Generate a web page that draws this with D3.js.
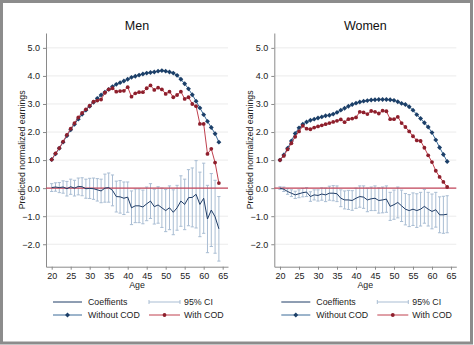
<!DOCTYPE html>
<html>
<head>
<meta charset="utf-8">
<script src="https://cdnjs.cloudflare.com/ajax/libs/d3/7.8.5/d3.min.js"></script>
<style>
  body { margin: 0; background: #fff; }
  svg { display: block; font-family: "Liberation Sans", Arial, sans-serif; }
  .axis path, .axis line { stroke: #8a8a8a; }
  .axis text { font-size: 9px; fill: #222; }
</style>
</head>
<body>
<svg width="474" height="345"></svg>
<script>
// ages on the x axis
var ages = [20,21,22,23,24,25,26,27,28,29,30,31,32,33,34,35,36,37,38,39,40,41,42,
            43,44,45,46,47,48,49,50,51,52,53,54,55,56,57,58,59,60,61,62,63,64];

var yTicks = [-2, -1, 0, 1, 2, 3, 4, 5];
var xTicks = [20, 25, 30, 35, 40, 45, 50, 55, 60, 65];

// men
var menWithout = [1.02,1.22,1.42,1.64,1.87,2.08,2.28,2.46,2.63,2.78,2.92,3.06,3.20,3.32,3.42,3.52,
                  3.62,3.70,3.76,3.82,3.88,3.95,3.99,4.03,4.07,4.10,4.12,4.14,4.17,4.19,4.17,4.14,
                  4.10,4.02,3.88,3.72,3.54,3.33,3.10,2.86,2.62,2.38,2.16,1.94,1.64];
var menWith = [1.02,1.24,1.43,1.66,1.90,2.12,2.32,2.52,2.68,2.81,2.94,3.08,3.12,3.16,3.40,3.52,
               3.56,3.44,3.46,3.47,3.60,3.26,3.38,3.42,3.42,3.56,3.66,3.50,3.58,3.52,3.36,3.44,
               3.24,3.32,3.44,3.18,3.24,3.00,2.92,2.29,2.29,1.22,1.40,0.91,0.18];
var menCoef = [0.02,0.04,0.02,0.04,-0.02,0.05,0.00,0.06,0.05,-0.02,-0.01,-0.02,-0.06,-0.10,0.00,0.02,
               -0.08,-0.30,-0.31,-0.36,-0.32,-0.70,-0.63,-0.63,-0.67,-0.56,-0.46,-0.66,-0.60,-0.70,-0.80,-0.70,
               -0.86,-0.70,-0.46,-0.58,-0.34,-0.33,-0.22,-0.58,-0.36,-1.10,-0.78,-1.02,-1.45];
var menHi = [0.16,0.19,0.20,0.26,0.24,0.32,0.28,0.36,0.37,0.32,0.35,0.36,0.34,0.32,0.50,0.54,
             0.47,0.25,0.27,0.22,0.22,-0.10,-0.03,-0.03,-0.07,0.04,0.16,-0.04,0.05,0.00,-0.05,0.08,
             -0.06,0.10,0.44,0.32,0.66,0.72,0.98,0.57,0.89,0.10,0.52,0.28,-0.30];
var menLo = [-0.12,-0.11,-0.16,-0.18,-0.28,-0.22,-0.28,-0.24,-0.27,-0.36,-0.37,-0.40,-0.46,-0.52,-0.50,-0.50,
             -0.63,-0.85,-0.89,-0.94,-0.86,-1.30,-1.23,-1.23,-1.27,-1.16,-1.08,-1.28,-1.25,-1.40,-1.55,-1.48,
             -1.66,-1.50,-1.36,-1.48,-1.34,-1.38,-1.42,-1.73,-1.61,-2.30,-2.08,-2.32,-2.60];

// women
var womenWithout = [1.00,1.18,1.42,1.68,1.95,2.15,2.28,2.36,2.42,2.46,2.50,2.54,2.58,2.60,2.64,2.70,
                    2.78,2.85,2.92,2.98,3.03,3.07,3.10,3.12,3.14,3.15,3.16,3.16,3.16,3.15,3.13,3.08,
                    3.02,2.98,2.90,2.78,2.62,2.48,2.33,2.18,1.98,1.72,1.45,1.20,0.95];
var womenWith = [1.00,1.15,1.38,1.60,1.83,2.02,2.22,2.12,2.10,2.16,2.20,2.24,2.28,2.32,2.36,2.40,
                 2.45,2.35,2.46,2.48,2.52,2.72,2.70,2.64,2.75,2.72,2.66,2.76,2.74,2.46,2.46,2.54,
                 2.32,2.18,2.02,1.85,1.70,1.68,1.44,1.17,0.93,0.62,0.40,0.22,0.04];
var womenCoef = [0.00,-0.04,-0.12,-0.18,-0.24,-0.20,-0.16,-0.14,-0.30,-0.24,-0.26,-0.21,-0.24,-0.18,-0.18,-0.20,
                 -0.36,-0.42,-0.42,-0.44,-0.36,-0.30,-0.32,-0.42,-0.38,-0.36,-0.44,-0.42,-0.39,-0.65,-0.59,-0.51,
                 -0.63,-0.75,-0.80,-0.75,-0.80,-0.75,-0.65,-0.75,-0.83,-0.77,-0.95,-0.95,-0.93];
var womenHi = [0.05,0.04,-0.02,-0.06,-0.11,-0.06,-0.01,0.02,-0.13,-0.06,-0.06,0.01,0.00,0.07,0.09,0.08,
               -0.06,-0.10,-0.08,-0.09,0.00,0.08,0.08,0.00,0.04,0.08,0.01,0.04,0.08,-0.15,-0.07,0.04,
               -0.07,-0.19,-0.23,-0.17,-0.20,-0.15,-0.05,-0.15,-0.21,-0.15,-0.31,-0.29,-0.27];
var womenLo = [-0.05,-0.12,-0.22,-0.30,-0.37,-0.34,-0.31,-0.30,-0.47,-0.42,-0.46,-0.43,-0.48,-0.43,-0.45,-0.48,
               -0.66,-0.74,-0.76,-0.79,-0.72,-0.68,-0.72,-0.84,-0.80,-0.80,-0.89,-0.88,-0.86,-1.15,-1.11,-1.06,
               -1.19,-1.31,-1.37,-1.33,-1.40,-1.35,-1.25,-1.35,-1.45,-1.39,-1.59,-1.61,-1.59];

var legendLabels = ["Coeffients", "95% CI", "Without COD", "With COD"];

var navy = "#1f3c66", ciColor = "#a9bdd3", blueLine = "#3b6a98", blueMark = "#1c3f68",
    redLine = "#c0414f", redMark = "#8e1f2c", zeroColor = "#c4475c";

var svg = d3.select("svg");

// outer frame
svg.append("rect").attr("x", 1.5).attr("y", 1.5).attr("width", 470).attr("height", 341.5)
  .attr("fill", "none").attr("stroke", "#8c8c8c").attr("stroke-width", 3);

var plotTop = 33, plotBottom = 266.7, plotW = 182;
var y = d3.scaleLinear().domain([-2.8, 5.53]).range([plotBottom, plotTop]);

function drawPanel(left, title, without, withC, coef, lo, hi) {
  var x = d3.scaleLinear().domain([18.5, 66.4]).range([left, left + plotW]);
  var g = svg.append("g");

  // gridlines
  g.selectAll(".grid").data(yTicks).enter().append("line")
    .attr("x1", left).attr("x2", left + plotW)
    .attr("y1", function(d) { return y(d); }).attr("y2", function(d) { return y(d); })
    .attr("stroke", "#ebebeb").attr("stroke-width", 1);

  g.append("g").attr("class", "axis")
    .attr("transform", "translate(" + left + ",0)")
    .call(d3.axisLeft(y).tickValues(yTicks).tickFormat(d3.format(".1f")).tickSize(3).tickSizeOuter(0));

  g.append("g").attr("class", "axis")
    .attr("transform", "translate(0," + plotBottom + ")")
    .call(d3.axisBottom(x).tickValues(xTicks).tickSize(3).tickSizeOuter(0));

  g.append("text").attr("x", left + plotW / 2).attr("y", 29.5)
    .attr("text-anchor", "middle").attr("font-size", "12.5px").attr("fill", "#111").text(title);

  g.append("text").attr("x", left + plotW / 2).attr("y", 287.5)
    .attr("text-anchor", "middle").attr("font-size", "8.8px").attr("fill", "#222").text("Age");

  g.append("text")
    .attr("transform", "translate(" + (left - 21) + "," + ((plotTop + plotBottom) / 2) + ") rotate(-90)")
    .attr("text-anchor", "middle").attr("font-size", "8.8px").attr("fill", "#222")
    .text("Predicted normalized earnings");

  // confidence intervals
  var ci = g.append("g").attr("stroke", ciColor).attr("stroke-width", 1);
  ages.forEach(function(a, i) {
    var cx = x(a);
    ci.append("line").attr("x1", cx).attr("x2", cx).attr("y1", y(lo[i])).attr("y2", y(hi[i]));
    ci.append("line").attr("x1", cx - 1.6).attr("x2", cx + 1.6).attr("y1", y(lo[i])).attr("y2", y(lo[i]));
    ci.append("line").attr("x1", cx - 1.6).attr("x2", cx + 1.6).attr("y1", y(hi[i])).attr("y2", y(hi[i]));
  });

  g.append("line").attr("x1", left).attr("x2", left + plotW)
    .attr("y1", y(0)).attr("y2", y(0)).attr("stroke", zeroColor).attr("stroke-width", 1.3);

  var line = d3.line().x(function(d, i) { return x(ages[i]); }).y(function(d) { return y(d); });

  g.append("path").datum(coef).attr("d", line)
    .attr("fill", "none").attr("stroke", navy).attr("stroke-width", 1);

  g.append("path").datum(without).attr("d", line)
    .attr("fill", "none").attr("stroke", blueLine).attr("stroke-width", 1);
  g.selectAll(".dia").data(without).enter().append("path")
    .attr("d", d3.symbol(d3.symbolSquare, 12)())
    .attr("transform", function(d, i) { return "translate(" + x(ages[i]) + "," + y(d) + ") rotate(45)"; })
    .attr("fill", blueMark);

  g.append("path").datum(withC).attr("d", line)
    .attr("fill", "none").attr("stroke", redLine).attr("stroke-width", 1);
  g.selectAll(".dot").data(withC).enter().append("circle")
    .attr("cx", function(d, i) { return x(ages[i]); }).attr("cy", function(d) { return y(d); })
    .attr("r", 1.9).attr("fill", redMark);

  // legend
  var lg = g.append("g").attr("font-size", "8.8px").attr("fill", "#222");
  var lx = left + 7, cx2 = left + 103;
  lg.append("line").attr("x1", lx).attr("x2", lx + 29).attr("y1", 302).attr("y2", 302)
    .attr("stroke", navy).attr("stroke-width", 1);
  lg.append("text").attr("x", lx + 35).attr("y", 305).text(legendLabels[0]);

  lg.append("line").attr("x1", cx2).attr("x2", cx2 + 31).attr("y1", 302).attr("y2", 302)
    .attr("stroke", ciColor).attr("stroke-width", 1);
  [cx2, cx2 + 31].forEach(function(px) {
    lg.append("line").attr("x1", px).attr("x2", px).attr("y1", 300).attr("y2", 304)
      .attr("stroke", ciColor).attr("stroke-width", 1);
  });
  lg.append("text").attr("x", cx2 + 35).attr("y", 305).text(legendLabels[1]);

  lg.append("line").attr("x1", lx).attr("x2", lx + 29).attr("y1", 315).attr("y2", 315)
    .attr("stroke", blueLine).attr("stroke-width", 1);
  lg.append("path").attr("d", d3.symbol(d3.symbolSquare, 12)())
    .attr("transform", "translate(" + (lx + 14.5) + ",315) rotate(45)").attr("fill", blueMark);
  lg.append("text").attr("x", lx + 35).attr("y", 318).text(legendLabels[2]);

  lg.append("line").attr("x1", cx2).attr("x2", cx2 + 31).attr("y1", 315).attr("y2", 315)
    .attr("stroke", redLine).attr("stroke-width", 1);
  lg.append("circle").attr("cx", cx2 + 15.5).attr("cy", 315).attr("r", 1.9).attr("fill", redMark);
  lg.append("text").attr("x", cx2 + 35).attr("y", 318).text(legendLabels[3]);
}

drawPanel(46, "Men", menWithout, menWith, menCoef, menLo, menHi);
drawPanel(274.3, "Women", womenWithout, womenWith, womenCoef, womenLo, womenHi);
</script>
</body>
</html>
